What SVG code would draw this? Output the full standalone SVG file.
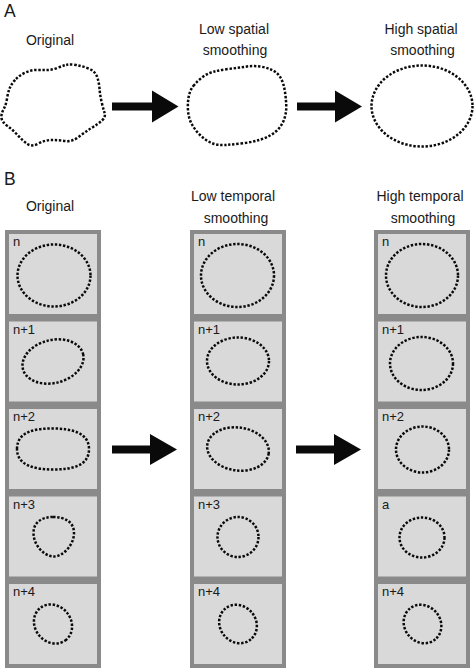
<svg xmlns="http://www.w3.org/2000/svg" width="474" height="668" viewBox="0 0 474 668">
<style>
text{font-family:"Liberation Sans",Arial,sans-serif;fill:#1a1a1a}
.t{font-size:14px;text-anchor:middle}
.lab{font-size:13px}
.big{font-size:17.5px}
.dot{fill:none;stroke:#0a0a0a;stroke-width:2.5;stroke-dasharray:2.4 1.7}
.frame{fill:#8a8a8a}
.cell{fill:#d9d9d9}
.arr{fill:#0a0a0a}
</style>
<rect width="474" height="668" fill="#fff"/>
<text class="big" x="4" y="17">A</text>
<text class="big" x="4" y="185">B</text>

<g id="a-original">
<text class="t" x="50" y="45">Original</text>
<path class="dot" d="M16,79 Q20,75 25.5,72.5 Q31,70 36.5,70 Q42,70 47,70 Q52,70 57,68 Q62,66 66,65 Q70,64 76,65 Q82,66 88.5,68.5 Q95,71 97,76.5 Q99,82 99.5,88.5 Q100,95 101.5,101.5 Q103,108 104.5,112.5 Q106,117 102,120.5 Q98,124 91.5,128 Q85,132 78.5,137 Q72,142 65,141 Q58,140 51.5,140 Q45,140 38.5,143.5 Q32,147 27.5,144 Q23,141 18,135.5 Q13,130 7.5,126 Q2,122 1.5,118 Q1,114 3.5,109.5 Q6,105 7,98.5 Q8,92 10,87.5 Q12,83 16,79 Z"/>
</g>
<g id="a-low">
<text class="t" x="234" y="34">Low spatial</text>
<text class="t" x="235" y="55">smoothing</text>
<path class="dot" d="M193.5,85.75 Q197,81.5 202,77.5 Q207,73.5 213.5,71.75 Q220,70 228.5,69 Q237,68 245,66.75 Q253,65.5 260,66.5 Q267,67.5 272.5,70.25 Q278,73 280.75,78 Q283.5,83 284.75,90.5 Q286,98 286.25,105.5 Q286.5,113 284,119.75 Q281.5,126.5 275.75,131.5 Q270,136.5 261.5,139.25 Q253,142 243,143.25 Q233,144.5 225,145 Q217,145.5 211,142.75 Q205,140 200,135 Q195,130 191.75,124 Q188.5,118 188,110.5 Q187.5,103 188.75,96.5 Q190,90 193.5,85.75 Z"/>
</g>
<g id="a-high">
<text class="t" x="421" y="34">High spatial</text>
<text class="t" x="422.5" y="55">smoothing</text>
<ellipse class="dot" cx="422" cy="106" rx="50.5" ry="40.5"/>
</g>

<g id="b-original">
<text class="t" x="50" y="211">Original</text>
<rect class="frame" x="5" y="230" width="96" height="438"/>
<rect class="cell" x="9" y="234" width="88" height="80"/>
<rect class="cell" x="9" y="321.5" width="88" height="80"/>
<rect class="cell" x="9" y="409" width="88" height="80"/>
<rect class="cell" x="9" y="496.5" width="88" height="80"/>
<rect class="cell" x="9" y="584" width="88" height="80"/>
<text class="lab" x="13" y="245.5">n</text>
<text class="lab" x="13" y="333.5">n+1</text>
<text class="lab" x="13" y="421">n+2</text>
<text class="lab" x="13" y="508.5">n+3</text>
<text class="lab" x="13" y="596">n+4</text>
<ellipse class="dot" cx="54" cy="275.5" rx="36.5" ry="31"/>
<ellipse class="dot" cx="53" cy="361.5" rx="31" ry="21.5" transform="rotate(-14 53 361.5)"/>
<path class="dot" d="M17,449 C17,431 36,428.5 53,428.5 C72,428.5 89,433 89,449 C89,466 72,469.5 53,469.5 C36,469.5 17,466 17,449 Z"/>
<path class="dot" d="M53,517 C65,517 74,522 74,533 C74,545 63,556.5 54,556.5 C44,556.5 33.5,545 33.5,533 C33.5,522 42,517 53,517 Z"/>
<ellipse class="dot" cx="53" cy="624" rx="20.5" ry="18" transform="rotate(50 53 624)"/>
</g>

<g id="b-low">
<text class="t" x="233" y="201">Low temporal</text>
<text class="t" x="236" y="223">smoothing</text>
<rect class="frame" x="190" y="230" width="96" height="438"/>
<rect class="cell" x="194" y="234" width="88" height="80"/>
<rect class="cell" x="194" y="321.5" width="88" height="80"/>
<rect class="cell" x="194" y="409" width="88" height="80"/>
<rect class="cell" x="194" y="496.5" width="88" height="80"/>
<rect class="cell" x="194" y="584" width="88" height="80"/>
<text class="lab" x="198" y="245.5">n</text>
<text class="lab" x="198" y="333.5">n+1</text>
<text class="lab" x="198" y="421">n+2</text>
<text class="lab" x="198" y="508.5">n+3</text>
<text class="lab" x="198" y="596">n+4</text>
<ellipse class="dot" cx="237.5" cy="275.5" rx="36.5" ry="31.5"/>
<ellipse class="dot" cx="238" cy="361" rx="31" ry="23.5"/>
<ellipse class="dot" cx="238" cy="449" rx="31" ry="21.5" transform="rotate(8 238 449)"/>
<ellipse class="dot" cx="238" cy="537" rx="20.5" ry="20"/>
<ellipse class="dot" cx="238" cy="624" rx="20" ry="18" transform="rotate(50 238 624)"/>
</g>

<g id="b-high">
<text class="t" x="420" y="201">High temporal</text>
<text class="t" x="423" y="223">smoothing</text>
<rect class="frame" x="374" y="230" width="96" height="438"/>
<rect class="cell" x="378" y="234" width="88" height="80"/>
<rect class="cell" x="378" y="321.5" width="88" height="80"/>
<rect class="cell" x="378" y="409" width="88" height="80"/>
<rect class="cell" x="378" y="496.5" width="88" height="80"/>
<rect class="cell" x="378" y="584" width="88" height="80"/>
<text class="lab" x="382" y="245.5">n</text>
<text class="lab" x="382" y="333.5">n+1</text>
<text class="lab" x="382" y="421">n+2</text>
<text class="lab" x="382" y="508.5">a</text>
<text class="lab" x="382" y="596">n+4</text>
<ellipse class="dot" cx="422" cy="275.5" rx="36" ry="31.5"/>
<ellipse class="dot" cx="421.5" cy="363.5" rx="31.5" ry="26.5"/>
<ellipse class="dot" cx="422.5" cy="449.5" rx="26.5" ry="23"/>
<ellipse class="dot" cx="422" cy="537.5" rx="22.5" ry="20"/>
<ellipse class="dot" cx="422.5" cy="624" rx="20" ry="18" transform="rotate(50 422.5 624)"/>
</g>

<g id="connectors">
<path class="arr" d="M112,102.5 H152 V90.5 L178.5,106.5 L152,122.5 V110.5 H112 Z"/>
<path class="arr" d="M297,102.5 H335 V90.5 L362,106.5 L335,122.5 V110.5 H297 Z"/>
<path class="arr" d="M112,445.5 H150 V434 L177,449.5 L150,465 V453.5 H112 Z"/>
<path class="arr" d="M296,445.5 H334 V434 L361,449.5 L334,465 V453.5 H296 Z"/>
</g>
</svg>
